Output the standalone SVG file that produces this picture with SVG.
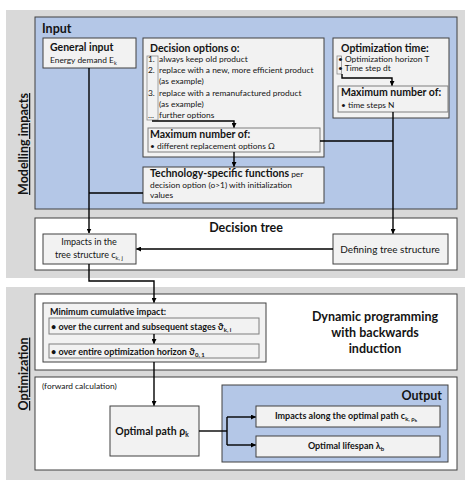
<svg xmlns="http://www.w3.org/2000/svg" width="474" height="487" viewBox="0 0 474 487">
<style>
text{font-family:Lato,"Open Sans","Liberation Sans",sans-serif;fill:#141414}
.panel{fill:#d9d9d9}
.blue{fill:#b4c7e7;stroke:#404040;stroke-width:1}
.white{fill:#ffffff;stroke:#404040;stroke-width:1}
.node{fill:#f2f2f2;stroke:#404040;stroke-width:1}
.sub{fill:#f2f2f2;stroke:#7f7f7f;stroke-width:1}
.thin{fill:none;stroke:#8c8c8c;stroke-width:0.8}
.b{font-weight:bold}
.t8{font-size:8.4px}
.t9{font-size:9px}
.t10{font-size:10.5px}
.t12{font-size:12.5px}
.side{font-size:12.5px;font-weight:bold;text-decoration:underline}
.c{text-anchor:middle}
.conn path{fill:none;stroke:#000;stroke-width:1.4}
</style>
<defs>
<marker id="ah" viewBox="0 0 10 10" refX="9" refY="5" markerWidth="5" markerHeight="5" orient="auto" markerUnits="userSpaceOnUse">
<path d="M0,0 L10,5 L0,10 z" fill="#000"/>
</marker>
</defs>

<rect class="panel" x="6" y="10" width="459" height="268"/>
<rect class="panel" x="6" y="287" width="459" height="193"/>
<text class="side c" transform="translate(28,144) rotate(-90)">Modelling impacts</text>
<text class="side c" transform="translate(28,374) rotate(-90)">Optimization</text>

<g id="input">
<rect class="blue" x="35" y="17" width="422" height="192"/>
<text class="t12 b" x="42" y="33">Input</text>
</g>

<g id="general-input">
<rect class="node" x="43" y="38" width="93" height="30"/>
<text class="t10 b" x="50" y="51">General input</text>
<text class="t8" x="50" y="63">Energy demand E<tspan font-size="5.5" dy="2">k</tspan></text>
</g>

<g id="decision-options">
<rect class="node" x="143" y="38" width="181" height="119"/>
<text class="t10 b" x="150" y="52">Decision options o:</text>
<rect class="thin" x="147" y="56" width="11" height="64"/>
<text class="t8" x="148" y="62">1.</text>
<text class="t8" x="159" y="62">always keep old product</text>
<text class="t8" x="148" y="73">2.</text>
<text class="t8" x="159" y="73">replace with a new, more efficient product</text>
<text class="t8" x="159" y="84">(as example)</text>
<text class="t8" x="148" y="96">3.</text>
<text class="t8" x="159" y="96">replace with a remanufactured product</text>
<text class="t8" x="159" y="107">(as example)</text>
<text class="t8" x="148" y="118">...</text>
<text class="t8" x="159" y="118">further options</text>
</g>

<g id="max-options">
<rect class="sub" x="148" y="128" width="172" height="24"/>
<text class="t10 b" x="150" y="138">Maximum number of:</text>
<text class="t8" x="150" y="149">• different replacement options Ω</text>
</g>

<g id="tech-functions">
<rect class="node" x="143" y="167" width="181" height="36"/>
<text class="t8" x="150" y="177"><tspan class="t10 b">Technology-specific functions</tspan> per</text>
<text class="t8" x="150" y="188">decision option (o&gt;1) with initialization</text>
<text class="t8" x="150" y="198">values</text>
</g>

<g id="optimization-time">
<rect class="node" x="333" y="38" width="116" height="80"/>
<text class="t10 b" x="341" y="52">Optimization time:</text>
<rect class="thin" x="337" y="56" width="4.5" height="18"/>
<text class="t8" x="338" y="62">• Optimization horizon T</text>
<text class="t8" x="338" y="71">• Time step dt</text>
</g>

<g id="max-time">
<rect class="sub" x="338" y="86" width="110" height="26"/>
<text class="t10 b" x="341" y="96">Maximum number of:</text>
<text class="t8" x="341" y="108">• time steps N</text>
</g>

<g id="decision-tree">
<rect class="white" x="35" y="218" width="422" height="52"/>
<text class="t12 b c" x="246" y="232">Decision tree</text>
</g>

<g id="impacts-tree">
<rect class="node" x="43" y="234" width="93" height="30"/>
<text class="t9 c" x="89" y="245">Impacts in the</text>
<text class="t9 c" x="89" y="258">tree structure c<tspan font-size="6" dy="2">k, j</tspan></text>
</g>

<g id="defining-tree">
<rect class="node" x="333" y="234" width="115" height="30"/>
<text class="c" font-size="10" x="390" y="253">Defining tree structure</text>
</g>

<g id="dynamic-programming">
<rect class="white" x="35" y="294" width="422" height="76"/>
<text class="t12 b c" x="375" y="321">Dynamic programming</text>
<text class="t12 b c" x="375" y="337">with backwards</text>
<text class="t12 b c" x="375" y="353">induction</text>
</g>

<g id="min-cumulative">
<rect class="node" x="43" y="303" width="223" height="59"/>
<text class="t9 b" x="50" y="315">Minimum cumulative impact:</text>
<rect class="sub" x="49" y="318" width="210" height="16"/>
<text class="t9 b" x="51" y="330">• over the current and subsequent stages ϑ<tspan font-size="6" dy="2">k, i</tspan></text>
<rect class="sub" x="49" y="344" width="210" height="14"/>
<text class="t9 b" x="51" y="355">• over entire optimization horizon ϑ<tspan font-size="6" dy="2">0, 1</tspan></text>
</g>

<g id="forward-calculation">
<rect class="white" x="35" y="377" width="422" height="93"/>
<text class="t8" x="42" y="389">(forward calculation)</text>
</g>

<g id="optimal-path">
<rect class="node" x="110" y="406" width="89" height="50"/>
<text class="t10 b c" x="152" y="435">Optimal path ρ<tspan font-size="6.5" dy="2">k</tspan></text>
</g>

<g id="output">
<rect class="blue" x="222" y="385" width="226" height="77"/>
<text class="t12 b" x="442" y="400" text-anchor="end">Output</text>
</g>

<g id="impacts-path">
<rect class="node" x="256" y="406" width="184" height="21"/>
<text class="t9 b c" x="346" y="419">Impacts along the optimal path c<tspan font-size="6" dy="2">k, ρ</tspan><tspan font-size="4.5" dy="1">k</tspan></text>
</g>

<g id="optimal-lifespan">
<rect class="node" x="256" y="436" width="184" height="21"/>
<text class="t9 b c" x="346" y="449">Optimal lifespan λ<tspan font-size="6" dy="2">b</tspan></text>
</g>

<g class="conn" id="connectors">
<path d="M89,68 V233" marker-end="url(#ah)"/>
<path d="M143,193 H89"/>
<path d="M152,121 H234 V127.5" marker-end="url(#ah)"/>
<path d="M234,152 V166.5" marker-end="url(#ah)"/>
<path d="M342,74 V78 H392 V85.5" marker-end="url(#ah)"/>
<path d="M393,112 V233.5" marker-end="url(#ah)"/>
<path d="M320,141 H393"/>
<path d="M333,249 H136.5" marker-end="url(#ah)"/>
<path d="M89,264 V281 H154 V302.5" marker-end="url(#ah)"/>
<path d="M154,334 V343.5" marker-end="url(#ah)"/>
<path d="M154,362 V405.5" marker-end="url(#ah)"/>
<path d="M199,431 H227"/>
<path d="M227,417 V445"/>
<path d="M227,417 H255.5" marker-end="url(#ah)"/>
<path d="M227,445 H255.5" marker-end="url(#ah)"/>
</g>
</svg>
